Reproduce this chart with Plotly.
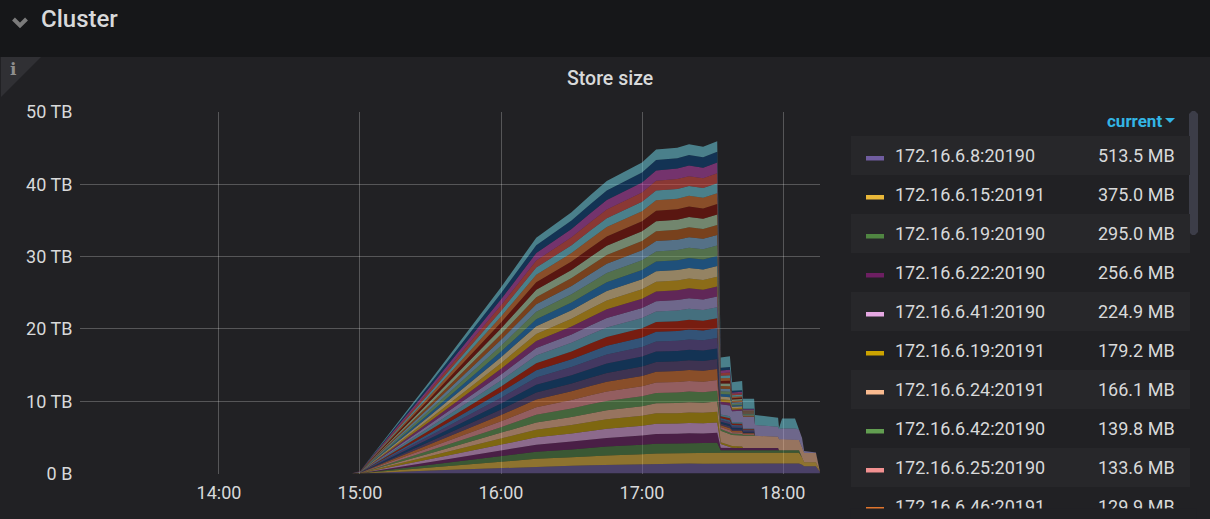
import plotly.graph_objects as go

W, H = 1210, 519

# sample times, then store size per node in TB
times = ["14:56:00", "15:00:00", "15:30:00", "16:00:00", "16:15:00", "16:30:00", "16:38:00", "16:45:00", "17:00:00",
         "17:06:00", "17:15:00", "17:20:00", "17:26:00", "17:32:00", "17:33:30", "17:37:24", "17:38:18", "17:42:36",
         "17:43:00", "17:47:42", "17:48:06", "17:57:54", "17:58:18", "17:59:36", "18:05:06", "18:06:48",
         "18:08:06", "18:09:00", "18:14:00", "18:15:40"]

v01 = [0, .01, .40, .78, .98, 1.08, 1.15, 1.20, 1.28, 1.34, 1.35, 1.37, 1.36, 1.38, 1.38, 1.38, 1.38, 1.38, 1.38, 1.38, 1.38, 1.38, 1.38, 1.38, 1.38, 1.38, 1.20, 1.00, 1.00, .25]
v02 = [0, .01, .42, .83, 1.05, 1.16, 1.24, 1.30, 1.38, 1.44, 1.45, 1.47, 1.46, 1.48, 1.48, 1.48, 1.48, 1.48, 1.48, 1.48, 1.48, 1.48, 1.48, 1.48, 1.48, 1.48, 1.00, .55, .55, .03]
v03 = [0, .01, .39, .77, .98, 1.09, 1.16, 1.22, 1.30, 1.35, 1.35, 1.36, 1.36, 1.38, .36, .36, .36, .36, .36, .36, .36, .36, .36, .36, .36, .36, 0, 0, 0, 0]
v04 = [0, .01, .38, .76, .97, 1.08, 1.14, 1.20, 1.29, 1.34, 1.36, 1.37, 1.35, 1.38, .35, .30, .30, .30, .30, .30, .30, .30, 0, 0, 0, 0, 0, 0, 0, 0]
v05 = [0, .01, .40, .80, 1.02, 1.13, 1.20, 1.26, 1.34, 1.40, 1.40, 1.41, 1.41, 1.43, .50, .10, .05, 0, 0, 0, 0, 0, 0, 0, 0, 0, 0, 0, 0, 0]
v06 = [0, .01, .42, .84, 1.05, 1.17, 1.25, 1.31, 1.39, 1.45, 1.44, 1.47, 1.45, 1.48, .25, .30, .25, .20, 0, 0, 0, 0, 0, 0, 0, 0, 0, 0, 0, 0]
v07 = [0, .01, .40, .80, 1.01, 1.12, 1.19, 1.25, 1.33, 1.39, 1.41, 1.42, 1.40, 1.43, 1.60, 1.50, 1.50, 1.55, 1.70, 1.70, 1.70, 1.55, 1.50, 1.50, 1.50, 1.40, 1.40, 1.30, 1.30, .02]
v08 = [0, .01, .41, .83, 1.06, 1.16, 1.24, 1.30, 1.38, 1.44, 1.46, 1.46, 1.46, 1.48, .24, .27, .20, .20, .11, .11, 0, 0, 0, 0, 0, 0, 0, 0, 0, 0]
v09 = [0, .01, .42, .82, 1.04, 1.17, 1.25, 1.31, 1.39, 1.44, 1.45, 1.47, 1.45, 1.48, .26, .28, .19, .21, .10, .10, 0, 0, 0, 0, 0, 0, 0, 0, 0, 0]
v10 = [0, .01, .43, .86, 1.08, 1.20, 1.27, 1.34, 1.42, 1.48, 1.49, 1.50, 1.50, 1.52, .25, .29, .21, .20, .12, .12, 0, 0, 0, 0, 0, 0, 0, 0, 0, 0]
v11 = [0, .01, .39, .77, .98, 1.08, 1.15, 1.21, 1.29, 1.35, 1.35, 1.37, 1.36, 1.38, .24, .27, .20, .19, .11, .11, 0, 0, 0, 0, 0, 0, 0, 0, 0, 0]
v12 = [0, .01, .41, .83, 1.05, 1.16, 1.23, 1.30, 1.38, 1.44, 1.45, 1.46, 1.46, 1.48, .26, .29, .20, .21, .12, .12, 0, 0, 0, 0, 0, 0, 0, 0, 0, 0]
v13 = [0, .01, .40, .80, 1.02, 1.12, 1.20, 1.26, 1.34, 1.39, 1.40, 1.42, 1.40, 1.43, .25, .28, .19, .20, .10, .10, 0, 0, 0, 0, 0, 0, 0, 0, 0, 0]
v14 = [0, .01, .38, .78, .98, 1.09, 1.15, 1.21, 1.29, 1.34, 1.36, 1.37, 1.36, 1.38, .24, .27, .21, .20, .11, .11, 0, 0, 0, 0, 0, 0, 0, 0, 0, 0]
v15 = [0, .01, .39, .77, .97, 1.08, 1.16, 1.22, 1.30, 1.35, 1.35, 1.36, 1.35, 1.38, .26, .28, .20, .21, .12, .12, 0, 0, 0, 0, 0, 0, 0, 0, 0, 0]
v16 = [0, .01, .42, .84, 1.07, 1.18, 1.25, 1.32, 1.40, 1.46, 1.47, 1.49, 1.48, 1.50, .25, .27, .20, .20, .11, .11, 0, 0, 0, 0, 0, 0, 0, 0, 0, 0]
v17 = [0, .01, .41, .83, 1.05, 1.17, 1.24, 1.30, 1.38, 1.44, 1.45, 1.47, 1.46, 1.48, 1.40, 1.50, 1.50, 1.60, 1.60, 1.60, 1.48, 1.40, 1.45, 1.50, 1.50, 1.45, 1.30, .25, .05, 0]
v18 = [0, .01, .39, .77, .98, 1.08, 1.15, 1.21, 1.30, 1.35, 1.35, 1.37, 1.36, 1.38, .36, .38, .20, .20, .08, .08, 0, 0, 0, 0, 0, 0, 0, 0, 0, 0]
v19 = [0, .01, .38, .78, .97, 1.09, 1.16, 1.22, 1.29, 1.34, 1.36, 1.36, 1.35, 1.38, .35, .37, .21, .19, .08, .08, 0, 0, 0, 0, 0, 0, 0, 0, 0, 0]
v20 = [0, .01, .42, .83, 1.05, 1.16, 1.24, 1.31, 1.39, 1.44, 1.45, 1.47, 1.45, 1.48, .37, .39, .20, .21, .09, .09, 0, 0, 0, 0, 0, 0, 0, 0, 0, 0]
v21 = [0, .01, .39, .77, .98, 1.08, 1.15, 1.21, 1.29, 1.35, 1.34, 1.37, 1.36, 1.38, .36, .38, .19, .20, .07, .07, 0, 0, 0, 0, 0, 0, 0, 0, 0, 0]
v22 = [0, .01, .40, .80, 1.02, 1.13, 1.19, 1.26, 1.34, 1.39, 1.41, 1.41, 1.41, 1.43, .36, .37, .20, .20, .08, .08, 0, 0, 0, 0, 0, 0, 0, 0, 0, 0]
v23 = [0, .01, .41, .83, 1.05, 1.17, 1.24, 1.30, 1.38, 1.45, 1.44, 1.47, 1.46, 1.48, .35, .38, .21, .21, .08, .08, 0, 0, 0, 0, 0, 0, 0, 0, 0, 0]
v24 = [0, .01, .39, .77, .98, 1.09, 1.15, 1.21, 1.30, 1.34, 1.36, 1.36, 1.35, 1.38, .37, .39, .20, .19, .09, .09, 0, 0, 0, 0, 0, 0, 0, 0, 0, 0]
v25 = [0, .01, .40, .80, 1.01, 1.12, 1.20, 1.26, 1.34, 1.40, 1.40, 1.42, 1.41, 1.43, .36, .38, .20, .20, .07, .07, 0, 0, 0, 0, 0, 0, 0, 0, 0, 0]
v26 = [0, .01, .41, .83, 1.06, 1.16, 1.25, 1.30, 1.39, 1.44, 1.46, 1.46, 1.45, 1.48, .35, .37, .19, .21, .08, .08, 0, 0, 0, 0, 0, 0, 0, 0, 0, 0]
v27 = [0, .01, .42, .82, 1.04, 1.17, 1.24, 1.31, 1.38, 1.45, 1.45, 1.47, 1.46, 1.48, .37, .38, .21, .20, .08, .08, 0, 0, 0, 0, 0, 0, 0, 0, 0, 0]
v28 = [0, .01, .38, .78, .98, 1.08, 1.16, 1.22, 1.29, 1.35, 1.35, 1.37, 1.35, 1.38, .36, .39, .20, .20, .09, .09, 0, 0, 0, 0, 0, 0, 0, 0, 0, 0]
v29 = [0, .01, .39, .77, .97, 1.09, 1.15, 1.21, 1.30, 1.34, 1.36, 1.36, 1.36, 1.38, .35, .38, .20, .19, .08, .08, 0, 0, 0, 0, 0, 0, 0, 0, 0, 0]
v30 = [0, .01, .42, .83, 1.05, 1.16, 1.24, 1.30, 1.39, 1.44, 1.45, 1.46, 1.45, 1.48, .36, .37, .19, .21, .08, .08, 0, 0, 0, 0, 0, 0, 0, 0, 0, 0]
v31 = [0, .01, .41, .84, 1.06, 1.17, 1.25, 1.31, 1.38, 1.45, 1.44, 1.47, 1.46, 1.48, .37, .38, .21, .20, .08, .08, 0, 0, 0, 0, 0, 0, 0, 0, 0, 0]
v32 = [0, .01, .42, .83, 1.05, 1.16, 1.24, 1.30, 1.39, 1.44, 1.45, 1.47, 1.45, 1.48, 1.45, 1.50, 1.20, 1.30, 1.40, 1.40, 1.40, 1.23, .13, 1.38, 1.38, .13, 0, 0, 0, 0]

all_values = [v01, v02, v03, v04, v05, v06, v07, v08, v09, v10, v11, v12, v13, v14, v15, v16,
              v17, v18, v19, v20, v21, v22, v23, v24, v25, v26, v27, v28, v29, v30, v31, v32]

series_colors = ["#705DA0", "#EAB839", "#508642", "#6D1F62", "#E5A8E2", "#CCA300", "#F9BA8F", "#629E51",
                 "#F29191", "#E0752D", "#584477", "#0A437C", "#614D93", "#447EBC", "#BF1B00", "#64B0C8",
                 "#AEA2E0", "#962D82", "#E5AC0E", "#F4D598", "#1F78C1", "#7EB26D", "#82B5D8", "#C15C17",
                 "#B7DBAB", "#890F02", "#E0752D", "#6ED0E0", "#E24D42", "#BA43A9", "#0A437C", "#6ED0E0"]

legend_names = ["172.16.6.8:20190", "172.16.6.15:20191", "172.16.6.19:20190", "172.16.6.22:20190",
                "172.16.6.41:20190", "172.16.6.19:20191", "172.16.6.24:20191", "172.16.6.42:20190",
                "172.16.6.25:20190", "172.16.6.46:20191"]
legend_current = ["513.5 MB", "375.0 MB", "295.0 MB", "256.6 MB", "224.9 MB",
                  "179.2 MB", "166.1 MB", "139.8 MB", "133.6 MB", "129.9 MB"]
legend_colors = ["#705DA0", "#EAB839", "#508642", "#6D1F62", "#E5A8E2",
                 "#CCA300", "#F9BA8F", "#629E51", "#F29191", "#E0752D"]

y_ticks = [0, 10, 20, 30, 40, 50]
y_labels = ["0 B", "10 TB", "20 TB", "30 TB", "40 TB", "50 TB"]
x_ticks = ["14:00", "15:00", "16:00", "17:00", "18:00"]

DAY = "2019-06-01 "
TEXT = "#d8d9da"
FONT = "Roboto"
GRID = "rgba(255,255,255,0.24)"


def px(x):
    return x / W


def py(y):
    return 1 - y / H


def rgba(color, alpha):
    r, g, b = int(color[1:3], 16), int(color[3:5], 16), int(color[5:7], 16)
    return f"rgba({r},{g},{b},{alpha})"


def rect(x0, y0, x1, y1, color):
    return dict(type="rect", xref="paper", yref="paper", x0=px(x0), x1=px(x1), y0=py(y0), y1=py(y1),
                fillcolor=color, line_width=0, layer="below")


def path(points, color, closed=True, width=0):
    d = "M " + " L ".join(f"{px(x)},{py(y)}" for x, y in points) + (" Z" if closed else "")
    return dict(type="path", xref="paper", yref="paper", path=d, layer="below",
                fillcolor=color if closed else None, line=dict(color=color, width=width))


def label(x, y, text, size=18, color=TEXT, anchor="left", weight=400, family=FONT):
    return dict(xref="paper", yref="paper", x=px(x), y=py(y), text=text, showarrow=False,
                xanchor=anchor, yanchor="middle", borderpad=0,
                font=dict(family=family, size=size, color=color, weight=weight))


fig = go.Figure()
x_dates = [DAY + t for t in times]
for i, values in enumerate(all_values):
    fig.add_trace(go.Scatter(x=x_dates, y=values, mode="lines", stackgroup="one",
                             line=dict(width=0, color=series_colors[i]),
                             fillcolor=rgba(series_colors[i], 0.55), showlegend=False, hoverinfo="skip"))

# page furniture
shapes = [
    rect(0, 0, W, 57, "#161719"),
    path([(1, 57), (41, 57), (1, 97)], "#303034"),
    path([(13.5, 19), (20, 25.5), (26.5, 19)], "#7b7b7b", closed=False, width=4),
    path([(1165, 118), (1175, 118), (1170, 123)], "#33b5e5"),
    path([(1192, 111), (1195, 111), (1198, 114), (1198, 232), (1195, 235), (1192, 235), (1189, 232), (1189, 114)],
         "#3c3d48"),
]
annotations = [
    label(40, 19, "Cluster", size=24, weight=500),
    label(13, 69, "i", size=17, color="#8e8e8e", anchor="center", weight=700, family="DejaVu Serif"),
    label(610, 78, "Store size", size=19.5, anchor="center", weight=500),
    label(1163, 121, "current", size=17, color="#33b5e5", anchor="right", weight=700),
]

for i, name in enumerate(legend_names):
    top = 136 + 39 * i
    if i % 2 == 0:
        shapes.append(rect(851, top, 1190, top + 39, "#27272a"))
    shapes.append(rect(866, top + 20, 884, top + 24.5, legend_colors[i]))
    annotations.append(label(893.5, top + 19, name))
    annotations.append(label(1176, top + 19, legend_current[i], anchor="right"))

# last row is cut off by the bottom of the scrolling legend
annotations.append(dict(xref="paper", yref="paper", x=px(850), y=py(507.5), text="&nbsp;", showarrow=False,
                        xanchor="left", yanchor="top", width=345, height=12, bgcolor="#212124", borderpad=0))

fig.update_layout(
    width=W, height=H, margin=dict(l=0, r=0, t=0, b=0, autoexpand=False), autosize=False,
    paper_bgcolor="#212124", plot_bgcolor="#212124",
    font=dict(family=FONT, size=18, color=TEXT),
    shapes=shapes, annotations=annotations,
    xaxis=dict(domain=[px(80), px(820)], type="date", range=[DAY + "13:00:52", DAY + "18:15:44"],
               tickvals=[DAY + t for t in x_ticks], ticktext=x_ticks,
               showgrid=True, gridcolor=GRID, gridwidth=1,
               ticks="outside", ticklen=3, tickcolor="rgba(0,0,0,0)", showline=False, zeroline=False),
    yaxis=dict(domain=[py(473.5), py(112)], range=[0, 50], tickvals=y_ticks, ticktext=y_labels,
               showgrid=True, gridcolor=GRID, gridwidth=1,
               ticks="outside", ticklen=3, tickcolor="rgba(0,0,0,0)", showline=False, zeroline=False),
)

fig.write_html("out.html", config={"displayModeBar": False},
               post_script="document.body.style.margin='0';document.body.style.overflow='hidden';")
